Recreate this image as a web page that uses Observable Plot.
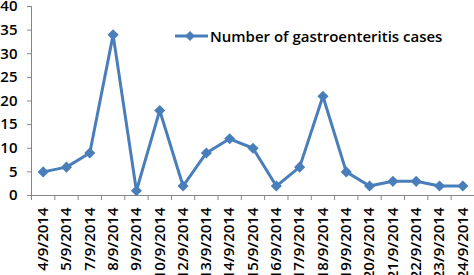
<!DOCTYPE html>
<html>
<head>
<meta charset="utf-8">
<script src="https://cdn.jsdelivr.net/npm/d3@7"></script>
<script src="https://cdn.jsdelivr.net/npm/@observablehq/plot@0.6"></script>
<style>
  html, body { margin: 0; padding: 0; background: #fff; }
  #wrap { position: relative; width: 474px; height: 275px; overflow: hidden; font-family: "Open Sans", sans-serif; }
  #legend { position: absolute; left: 175px; top: 26px; height: 20px; display: flex; align-items: center; font-size: 15px; font-weight: 600; color: #000; white-space: nowrap; }
  #legend svg { margin-right: 2px; }
</style>
</head>
<body>
<div id="wrap">
  <div id="chart"></div>
  <div id="legend"></div>
</div>
<script>
const dates = ["4/9/2014","5/9/2014","7/9/2014","8/9/2014","9/9/2014","10/9/2014","12/9/2014","13/9/2014","14/9/2014","15/9/2014","16/9/2014","17/9/2014","18/9/2014","19/9/2014","20/9/2014","21/9/2014","22/9/2014","23/9/2014","24/9/2014"];
const cases = [5, 6, 9, 34, 1, 18, 2, 9, 12, 10, 2, 6, 21, 5, 2, 3, 3, 2, 2];
const yTicks = [0, 5, 10, 15, 20, 25, 30, 35, 40];
const seriesName = "Number of gastroenteritis cases";
const color = "#4A7EBB";
const axisColor = "#868686";

const data = dates.map((d, i) => ({ i, date: d, cases: cases[i] }));
const n = dates.length;

const chart = Plot.plot({
  width: 474,
  height: 275,
  marginLeft: 31,
  marginRight: 0,
  marginTop: 6,
  marginBottom: 80,
  style: { fontFamily: "'Open Sans', sans-serif", fontSize: "15px", fontWeight: 600, color: "#000", background: "#fff", overflow: "visible" },
  x: { type: "linear", domain: [0, n], axis: null },
  y: { domain: [0, 40], axis: null },
  marks: [
    Plot.ruleY([0], { stroke: axisColor }),
    Plot.ruleX([0], { stroke: axisColor }),
    Plot.axisX(d3.range(n + 1), { tickSize: 5, tickFormat: () => "", stroke: axisColor, label: null }),
    Plot.axisX(d3.range(n).map(i => i + 0.5), {
      tickSize: 0, tickPadding: 12, tickRotate: -90, label: null,
      tickFormat: d => dates[Math.floor(d)], fontSize: 15, fill: "#000"
    }),
    Plot.axisY(yTicks, { tickSize: 4, tickPadding: 10, fontSize: 15, fill: "#000", stroke: axisColor, label: null }),
    Plot.line(data, { x: d => d.i + 0.5, y: "cases", stroke: color, strokeWidth: 3 }),
    Plot.dot(data, { x: d => d.i + 0.5, y: "cases", symbol: "diamond2", r: 5, fill: color, stroke: "none" })
  ]
});
document.getElementById("chart").appendChild(chart);

const legend = document.getElementById("legend");
legend.innerHTML = `<svg width="33" height="14"><line x1="0" y1="7" x2="33" y2="7" stroke="${color}" stroke-width="3"/><path d="M15,2L20,7L15,12L10,7Z" fill="${color}"/></svg><span>${seriesName}</span>`;
</script>
</body>
</html>
